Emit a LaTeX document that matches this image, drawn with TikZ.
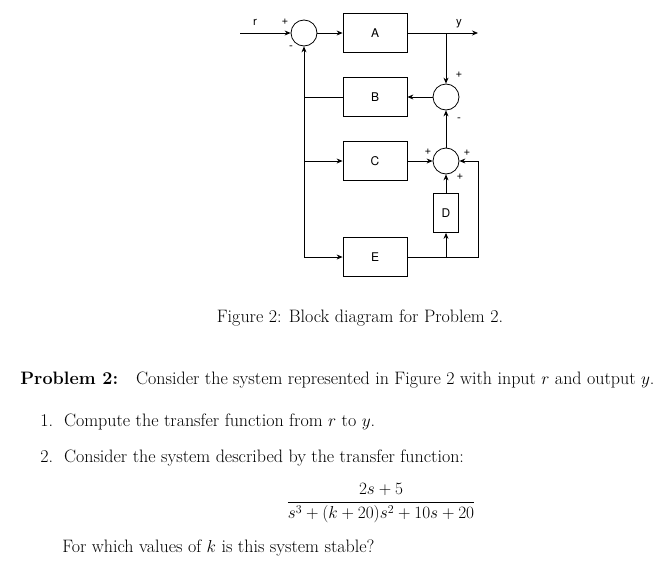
\documentclass[tikz,border=0pt]{standalone}
\usepackage{fontspec}
\usepackage{amsmath}
\newfontfamily\hv{TeX Gyre Heros}
\usetikzlibrary{arrows.meta}
\begin{document}
\begin{tikzpicture}[x=1pt,y=-1pt,
  blk/.style={draw,thick,minimum width=64pt,minimum height=39pt,font=\hv\fontsize{12}{14}\selectfont,inner sep=0pt},
  sm/.style={draw,circle,thick,minimum size=26pt,inner sep=0pt},
  lab/.style={font=\hv\fontsize{11.5}{13}\selectfont,inner sep=0pt},
  txt/.style={font=\fontsize{18}{21}\selectfont,anchor=west,inner sep=0pt},
  ar/.style={-{Stealth[length=6pt,width=5pt]}},
  line width=0.8pt]
\useasboundingbox (0,0) rectangle (659,573);
\node[sm] (s1) at (304,33) {};
\node[blk] (A) at (375,33) {A};
\node[blk] (B) at (375,97) {B};
\node[blk] (C) at (375,161) {C};
\node[blk] (E) at (375,257) {E};
\node[blk,minimum width=25pt] (D) at (446,213) {D};
\node[sm] (s2) at (446,97) {};
\node[sm] (s3) at (446,161) {};
\coordinate (in) at (240,33);
\coordinate (out) at (478,33);
\coordinate (py) at (446,33);
\coordinate (lb) at (304,257);
\coordinate (lB) at (304,97);
\coordinate (lC) at (304,161);
\coordinate (pE) at (446,257);
\coordinate (rE) at (478,257);
\coordinate (rs) at (478,161);
\draw[ar] (in) -- (s1);
\draw[ar] (s1) -- (A);
\draw[ar] (A) -- (out);
\draw[ar] (py) -- (s2);
\draw[ar] (s2) -- (B);
\draw (B) -- (lB);
\draw[ar] (lb) -- (s1);
\draw[ar] (lC) -- (C);
\draw[ar] (lb) -- (E);
\draw[ar] (C) -- (s3);
\draw[ar] (s3) -- (s2);
\draw[ar] (D) -- (s3);
\draw (E) -- (rE) -- (rs);
\draw[ar] (rs) -- (s3);
\draw[ar] (pE) -- (D);
\node[lab] at (255,22) {r};
\node[lab] at (285,22) {+};
\node[lab] at (291,48) {-};
\node[lab] at (459,24) {y};
\node[lab] at (459,75) {+};
\node[lab] at (459,120) {-};
\node[lab] at (428,152) {+};
\node[lab] at (467,153) {+};
\node[lab] at (460,177) {+};
\node[font=\fontsize{18}{21}\selectfont,inner sep=0pt] (cap) at (360,318) {Figure 2: Block diagram for Problem 2.};
\node[txt] (p) at (20,380) {\textbf{Problem 2:}\quad Consider the system represented in Figure 2 with input $r$ and output $y$.};
\node[txt] (i1) at (40,422) {1.\ \ Compute the transfer function from $r$ to $y$.};
\node[txt] (i2) at (40,458) {2.\ \ Consider the system described by the transfer function:};
\node[font=\fontsize{18}{21}\selectfont,inner sep=0pt] (fr) at (381,503) {$\dfrac{2s+5}{s^3+(k+20)s^2+10s+20}$};
\node[txt] (q) at (62,548) {For which values of $k$ is this system stable?};
\end{tikzpicture}
\end{document}
